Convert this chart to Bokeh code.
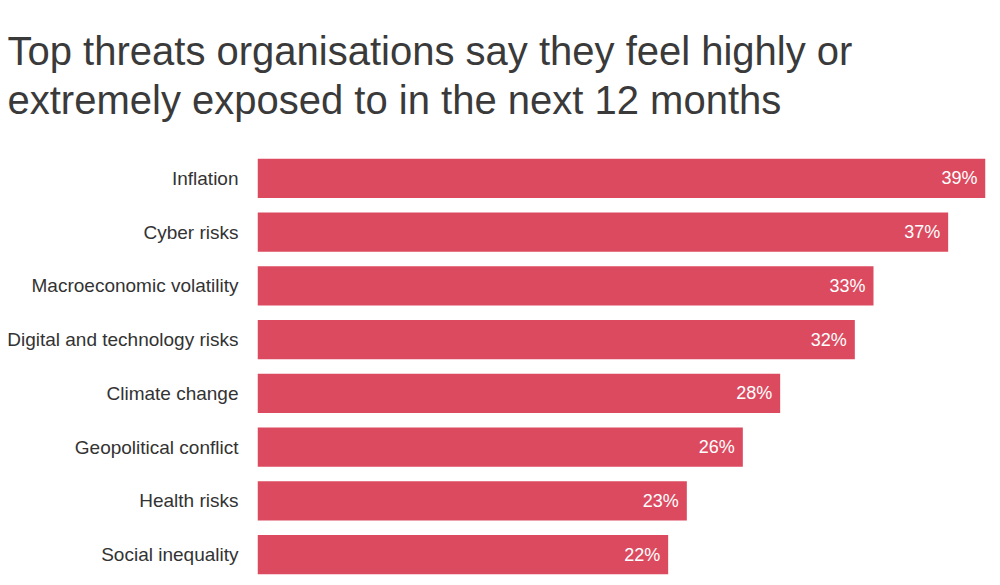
from bokeh.plotting import figure
from bokeh.models import ColumnDataSource, Range1d, FixedTicker
from bokeh.core.properties import value
from bokeh.embed import file_html
from bokeh.resources import INLINE

title_lines = ["Top threats organisations say they feel highly or",
               "extremely exposed to in the next 12 months"]
categories = ["Inflation", "Cyber risks", "Macroeconomic volatility",
              "Digital and technology risks", "Climate change",
              "Geopolitical conflict", "Health risks", "Social inequality"]
values = [39, 37, 33, 32, 28, 26, 23, 22]

FL = 257
n = len(categories)
ypos = [n - 1 - i for i in range(n)]
src = ColumnDataSource(dict(y=ypos, v=values, lab=[f"{v}%" for v in values]))

p = figure(width=1000, height=585, output_backend="svg", toolbar_location=None,
           x_range=Range1d(0, 39), y_range=Range1d(-0.5, n - 0.5),
           min_border_left=FL, min_border_right=15, min_border_top=151,
           min_border_bottom=4, title="\n".join(title_lines))
p.outline_line_color = None
p.grid.visible = False
p.xaxis.visible = False

p.title.align = "left"
p.title.vertical_align = "top"
p.title.offset = 7 - FL
p.title.text_font = "Liberation Sans"
p.title.text_font_size = "40px"
p.title.text_font_style = "normal"
p.title.text_color = "#3a3a3a"
p.title.text_line_height = 1.13
p.title.standoff = 54

p.hbar(y="y", right="v", left=0, height=0.73, source=src,
       fill_color="#DC4A5F", line_color=None)
p.text(x="v", y="y", text="lab", source=src, x_offset=-8,
       text_align="right", text_baseline="middle", text_color="white",
       text_font_size="18px", text_font=value("Liberation Sans"))

yax = p.yaxis[0]
yax.ticker = FixedTicker(ticks=ypos)
yax.major_label_overrides = {y: c for y, c in zip(ypos, categories)}
yax.axis_line_color = None
yax.major_tick_line_color = None
yax.minor_tick_line_color = None
yax.major_tick_out = 0
yax.major_label_standoff = 19
yax.major_label_text_font = "Liberation Sans"
yax.major_label_text_font_size = "19px"
yax.major_label_text_color = "#333333"

open("out.html", "w").write(file_html(p, INLINE))
